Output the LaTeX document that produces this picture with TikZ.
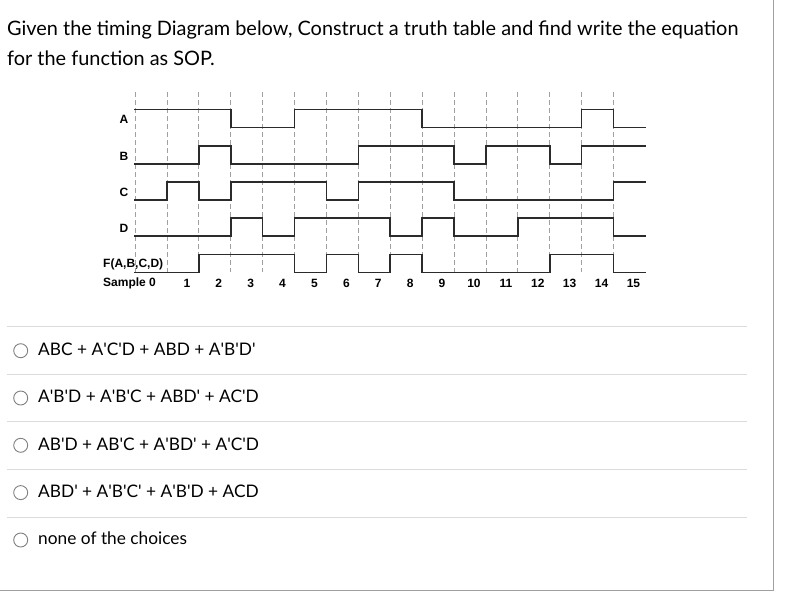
\documentclass[tikz,border=0pt]{standalone}
\usepackage{fontspec}
\setmainfont{Lato}
\newfontfamily\arialfont{Liberation Sans}

\definecolor{inkgray}{HTML}{2B2B2B}
\definecolor{rulegray}{HTML}{DCDCDC}
\definecolor{framegray}{HTML}{A0A0A0}

\newcommand{\q}{\textquotesingle}
\newcommand{\tO}{135}
\newcommand{\tw}{31.9}

% one waveform: top level, first bit, bits
\newcommand{\drawwave}[3]{%
  \foreach \b [count=\k from 0, remember=\b as \p (initially #2)] in {#3} {
    \draw[wave] ({\tO+\k*\tw},{#1+18*(1-\b)}) -- ++(\tw,0);
    \ifnum\b=\p\relax\else \draw[wave] ({\tO+\k*\tw},#1) -- ++(0,18);\fi
  }}

\tikzset{
  wave/.style={line width=1.6pt, draw=inkgray, line cap=rect},
  tickline/.style={draw=framegray, line width=0.8pt, dash pattern=on 5pt off 3pt},
  wlabel/.style={font=\arialfont\bfseries\fontsize{12}{14}\selectfont, inner sep=0pt},
  qtext/.style={font=\fontsize{19.9}{24}\selectfont, inner sep=0pt, anchor=base west},
  opttext/.style={font=\fontsize{17.3}{20}\selectfont, inner sep=0pt, anchor=base west},
  radio/.style={circle, draw=gray, line width=0.9pt, minimum size=14pt, inner sep=0pt},
  sep/.style={draw=rulegray, line width=1pt}
}

\begin{document}
\begin{tikzpicture}[x=1pt,y=-1pt]
\fill[white] (0,0) rectangle (805,597);
\useasboundingbox (0,0) rectangle (805,597);

% frame
\draw[framegray, line width=1pt] (773,0) -- (773,590) -- (0,590);

% question
\node[qtext] (title1) at (7,35.3) {Given the timing Diagram below, Construct a truth table and find write the equation};
\node[qtext] (title2) at (7,65.7) {for the function as SOP.};

% timing diagram
\foreach \k in {0,...,15}
  \draw[tickline] ({\tO+\k*\tw},92) -- ({\tO+\k*\tw},272);

\drawwave{109.5}{1}{1,1,1,0,0,1,1,1,1,0,0,0,0,0,1,0}
\drawwave{145.7}{0}{0,0,1,0,0,0,0,1,1,1,0,1,1,0,1,1}
\drawwave{181.9}{0}{0,1,0,1,1,1,0,1,1,1,0,0,0,0,0,1}
\drawwave{218.1}{0}{0,0,0,1,0,1,1,1,0,1,0,0,1,1,1,0}
\drawwave{254.3}{0}{0,0,1,1,1,0,1,0,1,0,0,0,0,1,1,0}

\node[wlabel, anchor=east] (la) at (128.5,119.3) {A};
\node[wlabel, anchor=east] (lb) at (128.5,155.9) {B};
\node[wlabel, anchor=east] (lc) at (128.5,192.1) {C};
\node[wlabel, anchor=east] (ld) at (128.5,228.3) {D};
\node[wlabel, anchor=west] (lf) at (103,264.5) {F(A,B,C,D)};
\node[wlabel, anchor=west] (s0) at (103,283) {Sample 0};
\foreach \k in {1,...,15}
  \node[wlabel] (s\k) at ({\tO+(\k+0.5)*\tw+4},283) {\k};

% choices
\foreach \y in {326.7,374.3,421.9,469.5,517.1}
  \draw[sep] (7,\y) -- (747,\y);

\node[radio] (r1) at (20.7,350.7) {};
\node[radio] (r2) at (20.7,398) {};
\node[radio] (r3) at (20.7,445.3) {};
\node[radio] (r4) at (20.7,492.6) {};
\node[radio] (r5) at (20.7,540) {};

\node[opttext] (c1) at (38,355.4) {ABC + A\q C\q D + ABD + A\q B\q D\q};
\node[opttext] (c2) at (38,402.7) {A\q B\q D + A\q B\q C + ABD\q{} + AC\q D};
\node[opttext] (c3) at (38,450) {AB\q D + AB\q C + A\q BD\q{} + A\q C\q D};
\node[opttext] (c4) at (38,497.3) {ABD\q{} + A\q B\q C\q{} + A\q B\q D + ACD};
\node[opttext] (c5) at (38,544.7) {none of the choices};
\end{tikzpicture}
\end{document}
